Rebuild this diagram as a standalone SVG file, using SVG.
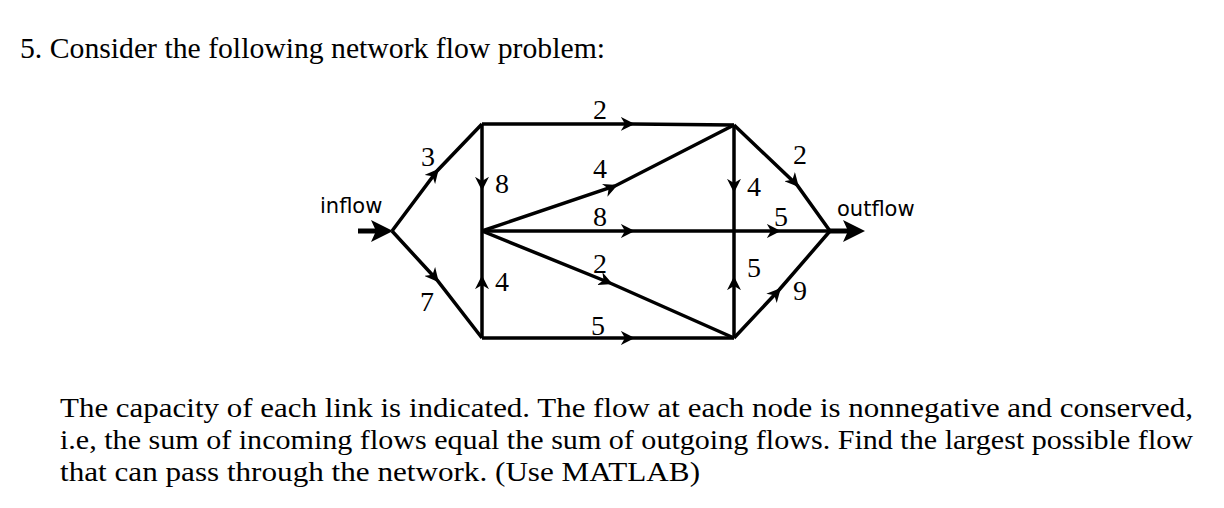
<svg xmlns="http://www.w3.org/2000/svg" width="1224" height="508" viewBox="0 0 1224 508">
<style>
.e{stroke:#000;stroke-width:3.5;fill:none;marker-mid:url(#m)}
.t{font-family:"Liberation Serif",serif;fill:#000}
.n{font-family:"Liberation Serif",serif;font-size:28px;text-anchor:middle}
.s{font-family:"DejaVu Sans",sans-serif;font-size:21px}
</style>
<defs>
<marker id="m" viewBox="0 0 10 10" refX="8" refY="5" markerWidth="4" markerHeight="4" markerUnits="strokeWidth" orient="auto"><path d="M0,0 L10,5 L0,10 L3,5 Z" fill="#000"/></marker>
</defs>
<rect width="1224" height="508" fill="#fff"/>
<text class="t" x="20" y="58" font-size="29" textLength="585" lengthAdjust="spacingAndGlyphs">5. Consider the following network flow problem:</text>
<g id="connectors">
<path class="e" d="M392,231 L437,171 L482,124"/>
<path class="e" d="M392,231 L437,280 L482,338"/>
<path class="e" d="M482,124 L632,124 L734,125"/>
<path class="e" d="M482,124 L482,188 L482,231"/>
<path class="e" d="M482,338 L482,278 L482,231"/>
<path class="e" d="M482,231 L615,186 L734,125"/>
<path class="e" d="M482,231 L632,231 L778,231 L830,231"/>
<path class="e" d="M482,231 L610,283 L734,338"/>
<path class="e" d="M482,338 L632,338 L734,338"/>
<path class="e" d="M734,125 L734,190 L734,231"/>
<path class="e" d="M734,338 L734,279 L734,231"/>
<path class="e" d="M734,125 L797,185 L830,231"/>
<path class="e" d="M734,338 L779,290 L830,231"/>
<path d="M358,231 L378,231" stroke="#000" stroke-width="5"/>
<path d="M371,220 L393,231 L371,242 L376,231 Z" fill="#000"/>
<path d="M830,231 L848,231" stroke="#000" stroke-width="5"/>
<path d="M843,220 L865,231 L843,242 L848,231 Z" fill="#000"/>
</g>
<g id="labels" class="t">
<text class="n" x="600" y="119">2</text>
<text class="n" x="428" y="166">3</text>
<text class="n" x="502" y="193">8</text>
<text class="n" x="600" y="178">4</text>
<text class="n" x="600" y="226">8</text>
<text class="n" x="781" y="226">5</text>
<text class="n" x="600" y="273">2</text>
<text class="n" x="598" y="335">5</text>
<text class="n" x="427" y="311">7</text>
<text class="n" x="502" y="291">4</text>
<text class="n" x="754" y="196">4</text>
<text class="n" x="754" y="277">5</text>
<text class="n" x="800" y="164">2</text>
<text class="n" x="800" y="300">9</text>
</g>
<g id="inflow"><text class="s" x="320" y="213">inflow</text></g>
<g id="outflow"><text class="s" x="837" y="216">outflow</text></g>
<g class="t" font-size="28">
<text x="60" y="417" textLength="1133" lengthAdjust="spacingAndGlyphs">The capacity of each link is indicated. The flow at each node is nonnegative and conserved,</text>
<text x="60" y="449" textLength="1133" lengthAdjust="spacingAndGlyphs">i.e, the sum of incoming flows equal the sum of outgoing flows. Find the largest possible flow</text>
<text x="60" y="481" textLength="640" lengthAdjust="spacingAndGlyphs">that can pass through the network. (Use MATLAB)</text>
</g>
</svg>
